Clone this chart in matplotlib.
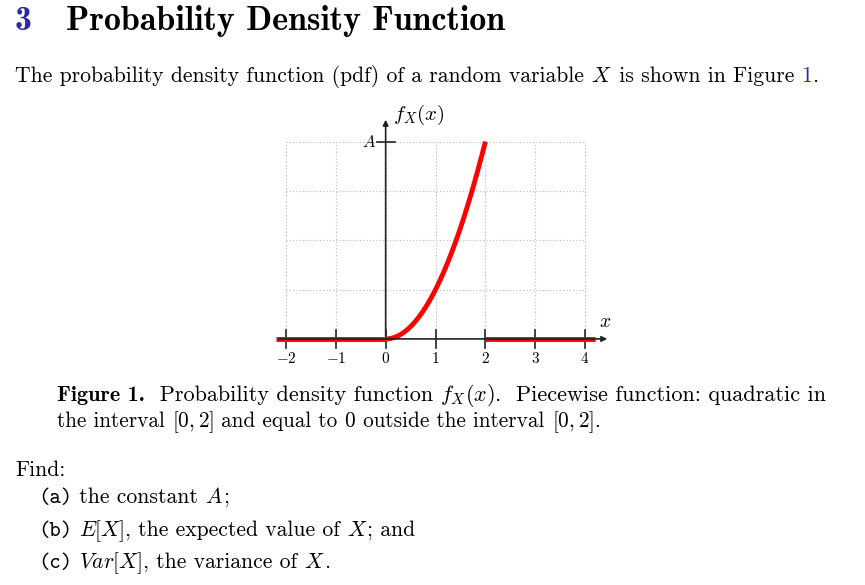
import numpy as np
import matplotlib
matplotlib.use("Agg")
import matplotlib.pyplot as plt

plt.rcParams["mathtext.fontset"] = "cm"
plt.rcParams["axes.unicode_minus"] = False

# data
x_ticks = [-2, -1, 0, 1, 2, 3, 4]
x_tick_labels = [r"$-2$", r"$-1$", r"$0$", r"$1$", r"$2$", r"$3$", r"$4$"]
A_value = 4.0
grid_y = [1, 2, 3, 4]
x_curve = np.linspace(0, 2, 200)
y_curve = x_curve ** 2  # quadratic on [0, 2], reaches A at x=2

fig = plt.figure(figsize=(8.65, 5.85), dpi=100)
ax = fig.add_axes([0.3075, 0.3785, 0.4035, 0.43])
ax.set_xlim(-2.4, 4.6)
ax.set_ylim(-0.5, 4.6)
ax.axis("off")

for gx in x_ticks:
    ax.plot([gx, gx], [0, A_value], color="#bbbbbb", lw=0.8, ls=(0, (1, 2)))
for gy in grid_y:
    ax.plot([-2, 4], [gy, gy], color="#bbbbbb", lw=0.8, ls=(0, (1, 2)))

ax.annotate("", xy=(4.5, 0), xytext=(-2.2, 0),
            arrowprops=dict(arrowstyle="-|>", color="#222222", lw=1.2, mutation_scale=8))
ax.annotate("", xy=(0, 4.5), xytext=(0, 0),
            arrowprops=dict(arrowstyle="-|>", color="#222222", lw=1.2, mutation_scale=8))
for gx, lab in zip(x_ticks, x_tick_labels):
    ax.plot([gx, gx], [-0.18, 0.18], color="#222222", lw=1.2)
    ax.text(gx, -0.25, lab, ha="center", va="top", fontsize=11)
ax.plot([-0.18, 0.18], [A_value, A_value], color="#222222", lw=1.2)
ax.text(-0.2, A_value, r"$A$", ha="right", va="center", fontsize=12)
ax.text(0.15, 4.55, r"$f_X(x)$", ha="left", va="center", fontsize=15)
ax.text(4.4, 0.35, r"$x$", ha="center", va="center", fontsize=14)

ax.plot([-2.2, 0], [0, 0], color="red", lw=3.5, solid_capstyle="butt")
ax.plot([2, 4.2], [0, 0], color="red", lw=3.5, solid_capstyle="butt")
ax.plot(x_curve, y_curve, color="red", lw=3.5, solid_capstyle="butt")

fig.canvas.draw()
r = fig.canvas.get_renderer()
H = 585
FS = 15.6


def line(x, y, pieces, size=FS):
    # pieces: list of (text, font, color)
    for s, fam, col in pieces:
        t = fig.text(x / 865, 1 - y / H, s, family=fam, fontsize=size, color=col,
                     va="baseline", ha="left")
        x += t.get_window_extent(r).width


blue = "#2b2ba6"
k = "black"
line(15, 30, [("3", "cmb10", blue), ("   Probability Density Function", "cmb10", k)], size=24.5)
line(15, 82, [("The probability density function (pdf) of a random variable ", "cmr10", k),
              (r"$X$", "cmr10", k), (" is shown in Figure ", "cmr10", k),
              ("1", "cmr10", blue), (".", "cmr10", k)])
line(57, 401, [("Figure 1.", "cmb10", k),
               ("  Probability density function ", "cmr10", k),
               (r"$f_X(x)$", "cmr10", k),
               (".  Piecewise function: quadratic in", "cmr10", k)], size=16.0)
line(57, 427, [("the interval ", "cmr10", k), (r"$[0,2]$", "cmr10", k),
               (" and equal to ", "cmr10", k), (r"$0$", "cmr10", k),
               (" outside the interval ", "cmr10", k), (r"$[0,2]$", "cmr10", k),
               (".", "cmr10", k)], size=15.3)
line(15, 476, [("Find:", "cmr10", k)])
line(38, 503, [("(a)", "cmtt10", k), (" the constant ", "cmr10", k),
               (r"$A$", "cmr10", k), (";", "cmr10", k)])
line(38, 536, [("(b)", "cmtt10", k), (" ", "cmr10", k), (r"$E[X]$", "cmr10", k),
               (", the expected value of ", "cmr10", k),
               (r"$X$", "cmr10", k), ("; and", "cmr10", k)])
line(38, 568, [("(c)", "cmtt10", k), (" ", "cmr10", k), (r"$Var[X]$", "cmr10", k),
               (", the variance of ", "cmr10", k),
               (r"$X$", "cmr10", k), (".", "cmr10", k)])

fig.savefig("out.png", dpi=100)
